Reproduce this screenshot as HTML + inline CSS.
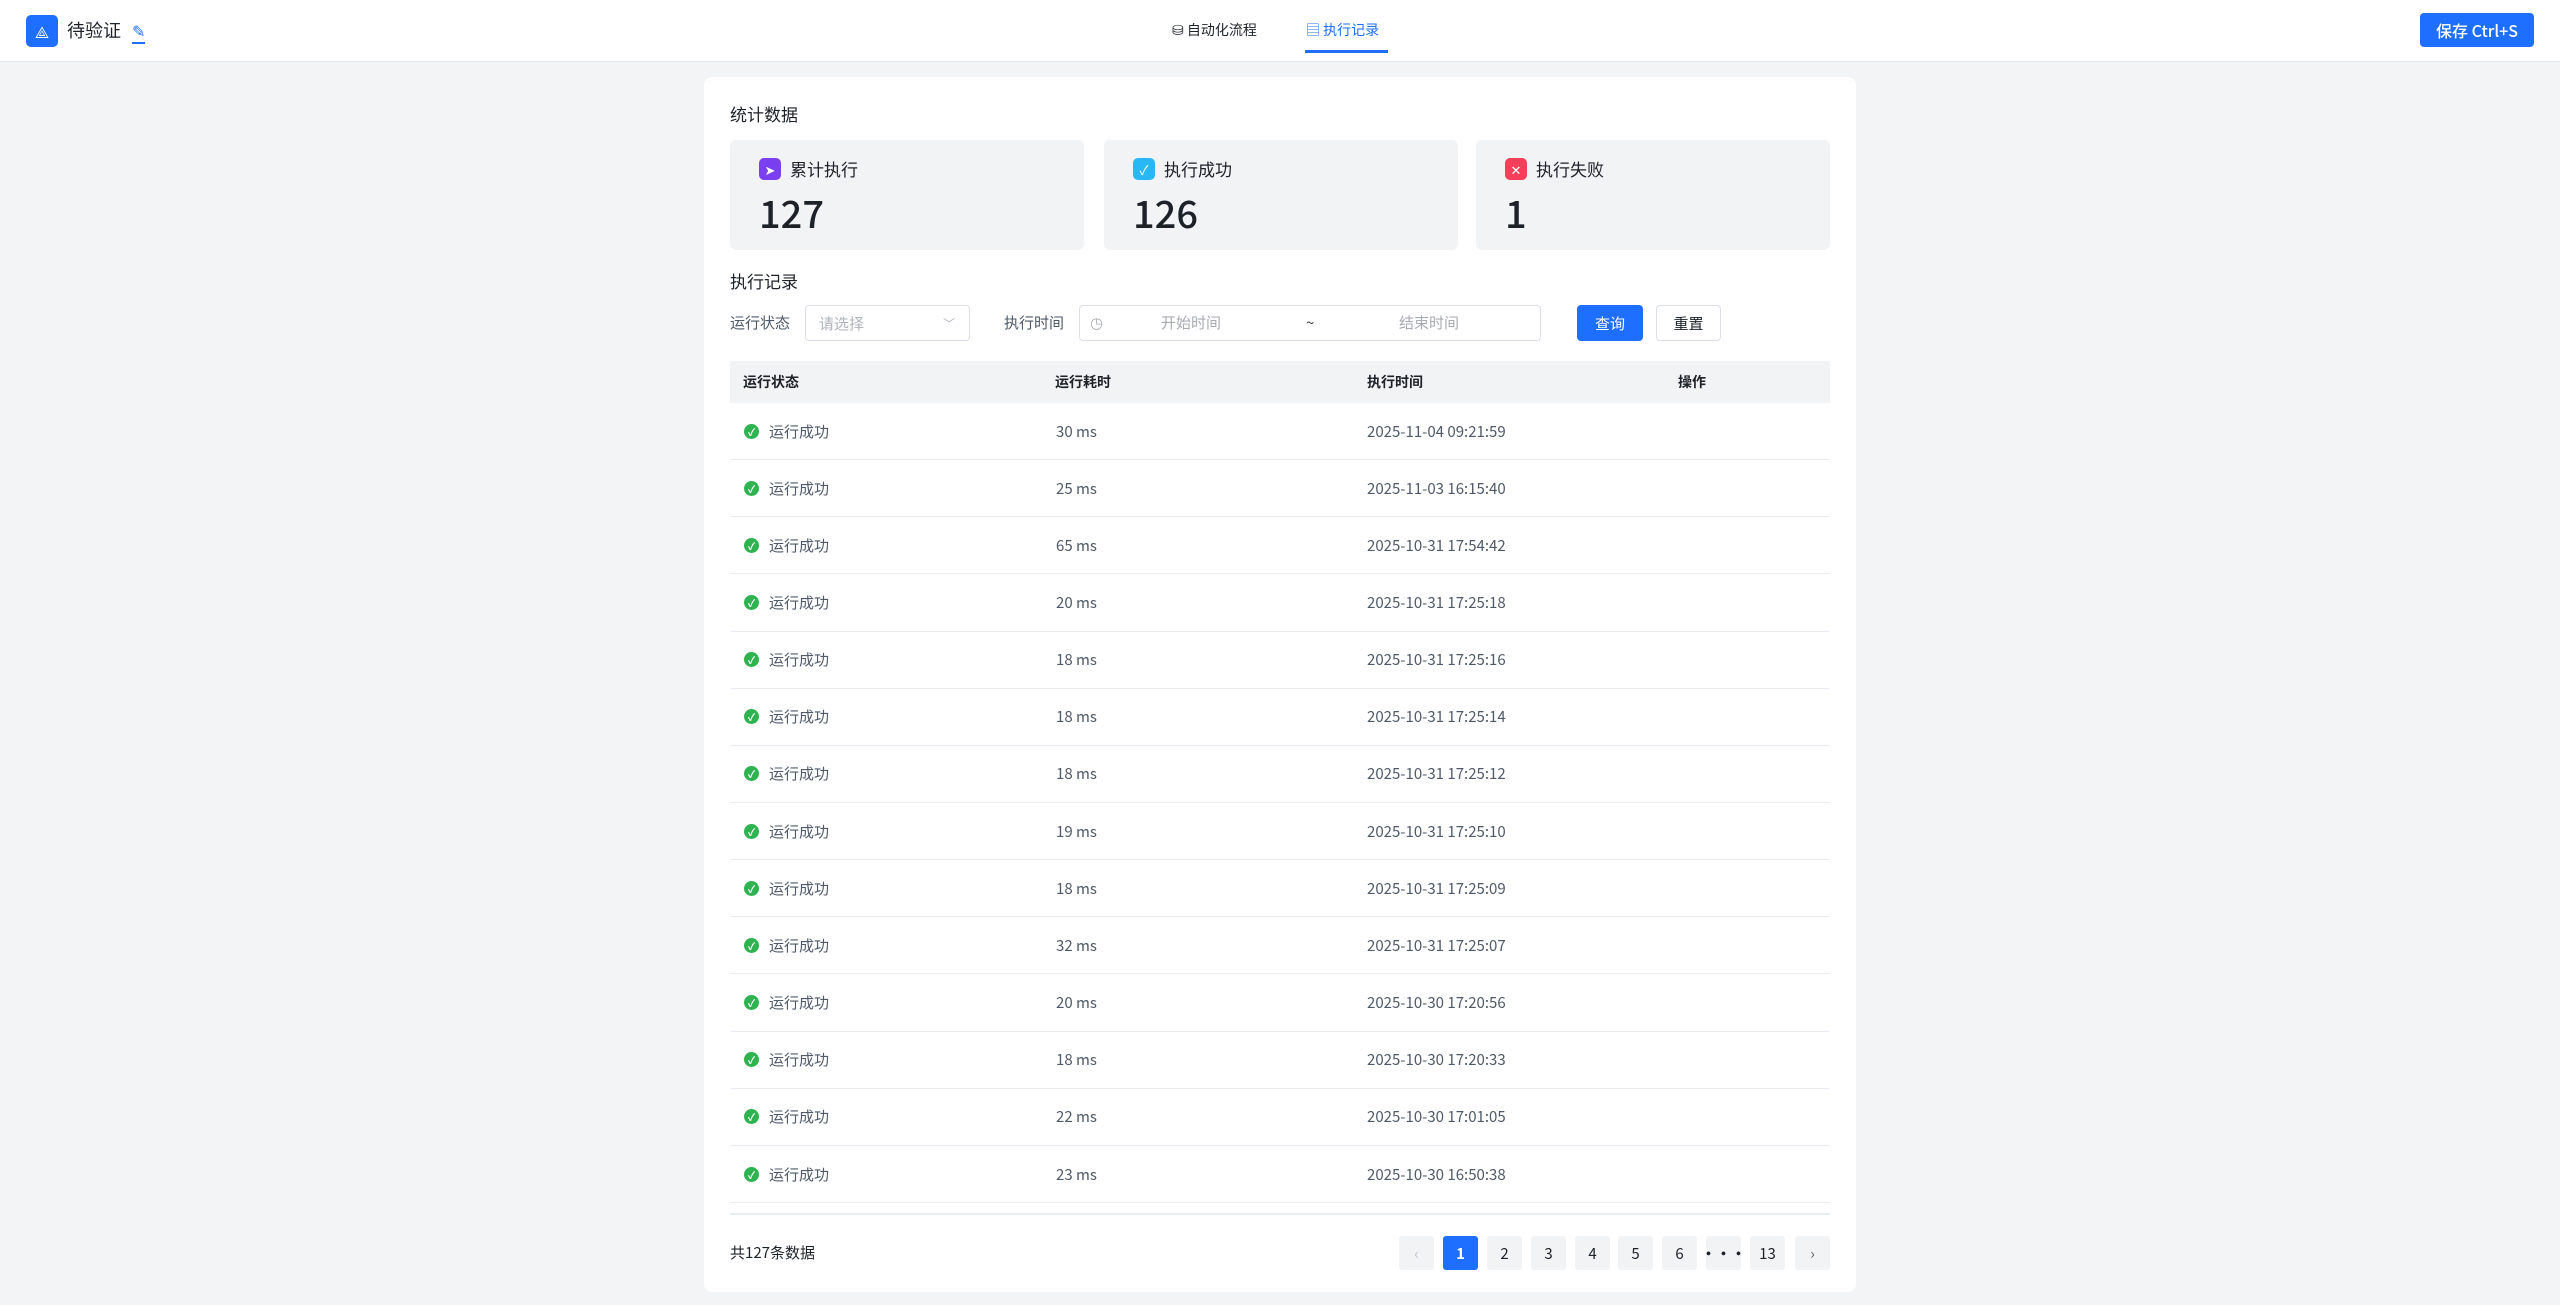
<!DOCTYPE html>
<html><head><meta charset="utf-8"><style>
*{box-sizing:border-box;margin:0;padding:0}
body{width:2560px;height:1305px;background:#f3f4f6;font-family:"Noto Sans CJK SC","Liberation Sans",sans-serif;color:#1d2129;position:relative;overflow:hidden}
.abs{position:absolute}
.hdr{left:0;top:0;width:2560px;height:62px;background:#fff;border-bottom:1px solid #e5e6eb}
.logo{left:26px;top:15px;width:32px;height:32px;border-radius:5px;background:#1e6fff}
.card{left:704px;top:77px;width:1152px;height:1215px;background:#fff;border-radius:8px}
.vc{display:flex;align-items:center}
.stat{top:140px;width:354px;height:110px;background:#f2f3f5;border-radius:6px}
.stat .ic{position:absolute;left:29px;top:18px;width:22px;height:22px;border-radius:5px;color:#fff;font-size:13px;display:flex;align-items:center;justify-content:center}
.stat .lb{position:absolute;left:60px;top:16px;font-size:17px;color:#1d2129;line-height:26px}
.stat .num{position:absolute;left:29px;top:46px;font-size:38px;font-weight:500;color:#1d2129;line-height:52px}
.inp{border:1px solid #dcdfe6;border-radius:4px;height:36px;background:#fff}
.th{top:361px;left:730px;width:1100px;height:42px;background:#f2f3f5;font-size:14px;font-weight:bold;color:#1d2129}
.row{left:730px;width:1100px;height:57.15px;border-bottom:1.5px solid #e9ecf1;font-size:15px;color:#4e5969}
.c{position:absolute;top:0;height:100%;display:flex;align-items:center}
.chk{width:15px;height:15px;border-radius:50%;background:#2fb350;color:#fff;font-size:10px;display:flex;align-items:center;justify-content:center;margin-right:10px;font-weight:bold}
.pg{top:1236px;width:35px;height:34px;background:#f2f3f5;border-radius:3px;font-size:15px;color:#1d2129;display:flex;align-items:center;justify-content:center}
</style></head><body>
<div class="abs hdr"></div>
<div class="abs logo vc" style="justify-content:center;color:#fff;font-size:16px">⟁</div>
<div class="abs" style="left:67px;top:17px;font-size:18px;line-height:26px;color:#1d2129">待验证</div>
<div class="abs" style="left:132px;top:18px;font-size:16px;color:#1e6fff;line-height:24px;border-bottom:2px solid #1e6fff">✎</div>
<div class="abs" style="left:1172px;top:19px;font-size:14px;line-height:22px;color:#1d2129">⛁ 自动化流程</div>
<div class="abs" style="left:1306px;top:19px;font-size:14px;line-height:22px;color:#1e6fff">▤ 执行记录</div>
<div class="abs" style="left:1305px;top:50px;width:83px;height:3px;background:#1e6fff"></div>
<div class="abs vc" style="left:2420px;top:13px;width:114px;height:34px;background:#1e6fff;border-radius:4px;color:#fff;font-size:16px;font-weight:500;justify-content:center">保存 Ctrl+S</div>

<div class="abs card"></div>
<div class="abs" style="left:730px;top:102px;font-size:17px;line-height:24px">统计数据</div>
<div class="abs stat" style="left:730px"><div class="ic" style="background:#7b3ff2">➤</div><div class="lb">累计执行</div><div class="num">127</div></div>
<div class="abs stat" style="left:1104px"><div class="ic" style="background:#27b8f5">✓</div><div class="lb">执行成功</div><div class="num">126</div></div>
<div class="abs stat" style="left:1476px"><div class="ic" style="background:#f53f5a">✕</div><div class="lb">执行失败</div><div class="num">1</div></div>

<div class="abs" style="left:730px;top:269px;font-size:17px;line-height:24px">执行记录</div>
<div class="abs" style="left:730px;top:312px;font-size:15px;line-height:22px;color:#4e5969">运行状态</div>
<div class="abs inp vc" style="left:805px;top:305px;width:165px;font-size:15px;color:#b0b4bb;padding-left:13px">请选择<span style="position:absolute;right:14px;color:#b0b4bb;font-size:12px">﹀</span></div>
<div class="abs" style="left:1004px;top:312px;font-size:15px;line-height:22px;color:#4e5969">执行时间</div>
<div class="abs inp" style="left:1079px;top:305px;width:462px;font-size:15px;color:#a8abb2">
<span class="abs" style="left:10px;top:6px">◷</span>
<span class="abs" style="left:81px;top:6px">开始时间</span>
<span class="abs" style="left:226px;top:6px;color:#333">~</span>
<span class="abs" style="left:319px;top:6px">结束时间</span></div>
<div class="abs vc" style="left:1577px;top:305px;width:66px;height:36px;background:#1e6fff;border-radius:4px;color:#fff;font-size:15px;justify-content:center">查询</div>
<div class="abs inp vc" style="left:1656px;top:305px;width:65px;font-size:15px;color:#1d2129;justify-content:center">重置</div>

<div class="abs th"><div class="c" style="left:13px">运行状态</div><div class="c" style="left:325px">运行耗时</div><div class="c" style="left:637px">执行时间</div><div class="c" style="left:948px">操作</div></div>
<div id="rows"></div>
<div class="abs" style="left:730px;top:1213px;width:1100px;height:1.5px;background:#e9ecf1"></div>

<div class="abs" style="left:730px;top:1242px;font-size:15px;line-height:22px;color:#1d2129">共127条数据</div>
<div class="abs pg" style="left:1399px;color:#c0c4cc">‹</div>
<div class="abs pg" style="left:1443px;background:#1e6fff;color:#fff;font-weight:bold">1</div>
<div class="abs pg" style="left:1487px">2</div>
<div class="abs pg" style="left:1531px">3</div>
<div class="abs pg" style="left:1575px">4</div>
<div class="abs pg" style="left:1618px">5</div>
<div class="abs pg" style="left:1662px">6</div>
<div class="abs pg" style="left:1706px;font-weight:bold">···</div>
<div class="abs pg" style="left:1750px">13</div>
<div class="abs pg" style="left:1795px;color:#606266">›</div>
<script>
var d=[["30","2025-11-04 09:21:59"],["25","2025-11-03 16:15:40"],["65","2025-10-31 17:54:42"],["20","2025-10-31 17:25:18"],["18","2025-10-31 17:25:16"],["18","2025-10-31 17:25:14"],["18","2025-10-31 17:25:12"],["19","2025-10-31 17:25:10"],["18","2025-10-31 17:25:09"],["32","2025-10-31 17:25:07"],["20","2025-10-30 17:20:56"],["18","2025-10-30 17:20:33"],["22","2025-10-30 17:01:05"],["23","2025-10-30 16:50:38"]];
var h="";d.forEach(function(r,i){h+='<div class="abs row" style="top:'+(403+i*57.15)+'px"><div class="c" style="left:14px"><span class="chk">✓</span>运行成功</div><div class="c" style="left:326px">'+r[0]+' ms</div><div class="c" style="left:637px">'+r[1]+'</div></div>';});
document.getElementById("rows").innerHTML=h;
</script>
</body></html>
